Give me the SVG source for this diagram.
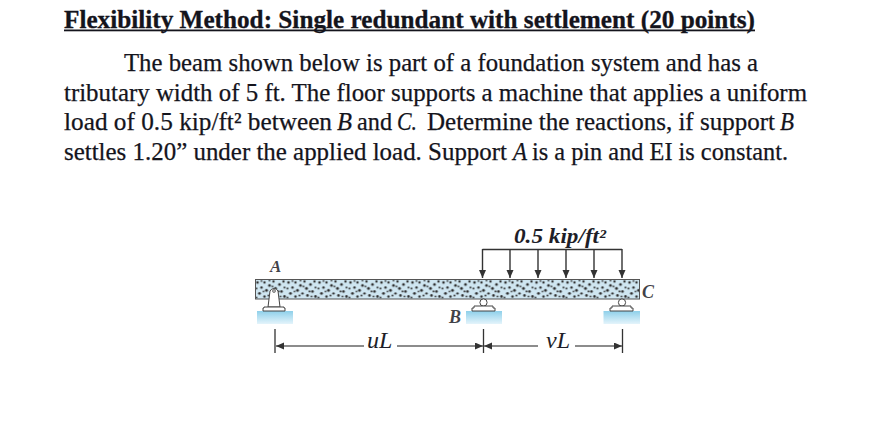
<svg xmlns="http://www.w3.org/2000/svg" width="882" height="424" viewBox="0 0 882 424">
<style>
.t{font-family:"Liberation Serif","DejaVu Serif",serif;font-size:24.5px;fill:#14141c;stroke:#14141c;stroke-width:.25}
.h{font-weight:bold;font-size:24.5px;stroke-width:.3}
.i{font-style:italic}
.l{font-family:"Liberation Serif",serif;font-style:italic;fill:#1e1e28}
.s{fill:none;stroke:#333;stroke-width:1.4}
.p{fill:#fff;stroke:#444;stroke-width:1}
.d{fill:none;stroke:#666;stroke-width:1.6}
.k{fill:none;stroke:#333;stroke-width:1.3}
</style>
<defs>
<linearGradient id="g" x1="0" y1="0" x2="0" y2="1"><stop offset="0" stop-color="#8fd0ea"/><stop offset="1" stop-color="#e4f4fb"/></linearGradient>
<pattern id="c" width="31" height="19.500" patternUnits="userSpaceOnUse" x="255.500" y="279.500">
<rect width="31" height="20" fill="#cfe6f1"/>
<g fill="#2e2e2e">
<circle cx="2" cy="3" r="1.300"/><circle cx="6" cy="8" r="1.200"/><circle cx="4" cy="14" r="1.400"/><circle cx="9" cy="3" r="1.200"/><circle cx="11" cy="11" r="1.400"/><circle cx="9" cy="17" r="1.200"/><circle cx="14" cy="6" r="1.300"/><circle cx="16" cy="14" r="1.200"/><circle cx="18" cy="2" r="1.200"/><circle cx="20" cy="9" r="1.400"/><circle cx="21" cy="16" r="1.300"/><circle cx="24" cy="5" r="1.300"/><circle cx="26" cy="12" r="1.300"/><circle cx="28" cy="2" r="1.200"/><circle cx="29" cy="17" r="1.300"/><circle cx="29" cy="8" r="1"/><circle cx="1" cy="9" r="1"/><circle cx="13" cy="16" r="1"/><circle cx="6" cy="1.500" r=".9"/><circle cx="14" cy="1" r=".9"/><circle cx="17" cy="7" r=".9"/><circle cx="23" cy="12" r="1"/><circle cx="8" cy="12" r=".9"/><circle cx="1" cy="18" r=".9"/><circle cx="25" cy="17" r=".9"/>
</g></pattern>
<marker id="a" markerWidth="9" markerHeight="8" refX="8" refY="3.500" orient="auto" markerUnits="userSpaceOnUse"><path d="M0 0L8 3.500L0 7Z" fill="#333"/></marker>
</defs>
<g id="statement">
<text class="t h" x="64" y="28" textLength="691" lengthAdjust="spacingAndGlyphs">Flexibility Method: Single redundant with settlement (20 points)</text>
<rect x="64" y="29.500" width="691" height="1.800" fill="#14141c"/>
<text class="t" x="124" y="71" textLength="634" lengthAdjust="spacingAndGlyphs">The beam shown below is part of a foundation system and has a</text>
<text class="t" x="64" y="101" textLength="743" lengthAdjust="spacingAndGlyphs">tributary width of 5 ft. The floor supports a machine that applies a uniform</text>
<text class="t" x="64" y="130" textLength="268" lengthAdjust="spacingAndGlyphs">load of 0.5 kip/ft² between</text>
<text class="t i" x="337" y="130" textLength="15" lengthAdjust="spacingAndGlyphs">B</text>
<text class="t" x="357" y="130" textLength="35" lengthAdjust="spacingAndGlyphs">and</text>
<text class="t i" x="397" y="130" textLength="20" lengthAdjust="spacingAndGlyphs">C.</text>
<text class="t" x="427" y="130" textLength="348" lengthAdjust="spacingAndGlyphs">Determine the reactions, if support</text>
<text class="t i" x="780" y="130" textLength="14" lengthAdjust="spacingAndGlyphs">B</text>
<text class="t" x="64" y="160" textLength="443" lengthAdjust="spacingAndGlyphs">settles 1.20” under the applied load. Support</text>
<text class="t i" x="513" y="160" textLength="14" lengthAdjust="spacingAndGlyphs">A</text>
<text class="t" x="532" y="160" textLength="256" lengthAdjust="spacingAndGlyphs">is a pin and EI is constant.</text>
</g>
<g id="beam"><rect x="255.500" y="279.500" width="384" height="19.500" fill="url(#c)" stroke="#555" stroke-width="1"/></g>
<g id="support-a">
<rect x="257" y="311" width="36" height="13" fill="url(#g)"/>
<path class="p" d="M268 307L270 291A4.500 4.500 0 0 1 278 291L280 307Z"/>
<circle cx="274" cy="291" r="1.500" fill="#bbb" stroke="#444" stroke-width=".6"/>
<path class="p" d="M263 311V308H264V307H284V308H285V311Z"/>
</g>
<g id="support-b">
<rect x="466" y="311" width="36" height="13" fill="url(#g)"/>
<circle cx="483.500" cy="302.500" r="3.600" class="p"/>
<path class="p" d="M472 311V308H474V306H493V308H495V311Z"/>
</g>
<g id="support-c">
<rect x="603.500" y="311" width="36.500" height="13" fill="url(#g)"/>
<circle cx="622" cy="302.500" r="3.600" class="p"/>
<path class="p" d="M610 311V308H612V306H631V308H633V311Z"/>
</g>
<g id="connectors">
<path class="s" d="M482.500 249.500H622"/>
<path class="s" d="M482.500 249V278" marker-end="url(#a)"/>
<path class="s" d="M510 249V278" marker-end="url(#a)"/>
<path class="s" d="M538 249V278" marker-end="url(#a)"/>
<path class="s" d="M566 249V278" marker-end="url(#a)"/>
<path class="s" d="M594 249V278" marker-end="url(#a)"/>
<path class="s" d="M622 249V278" marker-end="url(#a)"/>
<path class="k" d="M275 329V353M483.500 329V353M622.500 329V353"/>
<path class="d" d="M364 346H276" marker-end="url(#a)"/>
<path class="d" d="M397 346H483" marker-end="url(#a)"/>
<path class="d" d="M538 346H484" marker-end="url(#a)"/>
<path class="d" d="M575 346H622" marker-end="url(#a)"/>
</g>
<g id="labels">
<text class="l" x="270" y="272" font-size="17" font-weight="bold" fill-opacity=".85">A</text>
<text class="l" x="449" y="323" font-size="18" font-weight="bold" fill-opacity=".85">B</text>
<text class="l" x="642" y="298" font-size="18" font-weight="bold" fill-opacity=".85">C</text>
<text class="l" x="367" y="348" font-size="24">uL</text>
<text class="l" x="546" y="348" font-size="24">vL</text>
<text class="l" x="514" y="243" font-size="20" font-weight="bold" textLength="92" lengthAdjust="spacingAndGlyphs">0.5 kip/ft²</text>
</g>
</svg>
